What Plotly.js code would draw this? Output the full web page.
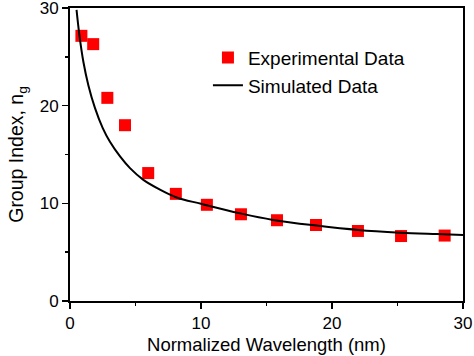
<!DOCTYPE html>
<html>
<head>
<meta charset="utf-8">
<script src="https://cdn.plot.ly/plotly-3.0.1.min.js"></script>
<style>html,body{margin:0;padding:0;background:#fff;}#chart{width:474px;height:356px;}</style>
</head>
<body>
<div id="chart"></div>
<script>
const expX = [0.87, 1.77, 2.85, 4.2, 5.97, 8.08, 10.45, 13.05, 15.8, 18.78, 21.98, 25.27, 28.6];
const expY = [27.15, 26.3, 20.8, 18.0, 13.1, 10.97, 9.85, 8.88, 8.27, 7.78, 7.17, 6.65, 6.7];
// Simulated curve
const simX = [0.5, 0.71, 1.02, 1.4, 1.91, 2.5, 3.05, 3.82, 4.58, 5.6, 6.87, 8.14, 10.0, 13.0, 15.5, 18.8, 22.0, 25.2, 28.0, 30.0];
const simY = [29.8, 27.3, 24.5, 22.1, 19.75, 17.7, 16.3, 14.8, 13.6, 12.4, 11.4, 10.6, 9.95, 8.97, 8.3, 7.72, 7.27, 7.0, 6.85, 6.75];
const xTicks = [0, 10, 20, 30];
const yTicks = [0, 10, 20, 30];
const minorTicks = [5, 15, 25];

const fam = 'Liberation Sans, Arial, sans-serif';
const tickFont = {family: fam, size: 17, color: '#000'};
const titleFont = {family: fam, size: 18.5, color: '#000'};

const traces = [
  {x: expX, y: expY, type: 'scatter', mode: 'markers', name: 'Experimental Data',
   marker: {symbol: 'square', size: 12, color: '#ff0000'}},
  {x: simX, y: simY, type: 'scatter', mode: 'lines', name: 'Simulated Data',
   line: {color: '#000', width: 2, shape: 'spline', smoothing: 1}}
];

const axisCommon = {
  range: [0, 30],
  showgrid: false, zeroline: false, showline: true, linecolor: '#000', linewidth: 2,
  mirror: true, ticks: 'outside', ticklen: 6, tickwidth: 1.5, tickcolor: '#000',
  minor: {tickvals: minorTicks, ticks: 'outside', ticklen: 3, tickwidth: 1.5, tickcolor: '#000'},
  tickfont: tickFont, ticklabeloverflow: 'allow'
};

const layout = {
  width: 474, height: 356,
  margin: {l: 70, r: 11, t: 8, b: 55},
  paper_bgcolor: '#fff', plot_bgcolor: '#fff',
  font: {family: fam, size: 17, color: '#000'},
  showlegend: true,
  legend: {x: 0.351, y: 0.895, xanchor: 'left', yanchor: 'top', bgcolor: 'rgba(0,0,0,0)',
           font: {family: fam, size: 19, color: '#000'}, tracegroupgap: 0},
  xaxis: Object.assign({}, axisCommon, {
    tickvals: xTicks, ticktext: xTicks.map(String),
    title: {text: 'Normalized Wavelength (nm)', font: titleFont, standoff: 6}
  }),
  yaxis: Object.assign({}, axisCommon, {
    tickvals: yTicks, ticktext: yTicks.map(String),
    title: {text: 'Group Index, n<sub>g</sub>\u00a0\u00a0\u00a0\u00a0', font: {family: fam, size: 19.5, color: '#000'}, standoff: 11}
  })
};

Plotly.newPlot('chart', traces, layout, {displayModeBar: false, staticPlot: true});
</script>
</body>
</html>
